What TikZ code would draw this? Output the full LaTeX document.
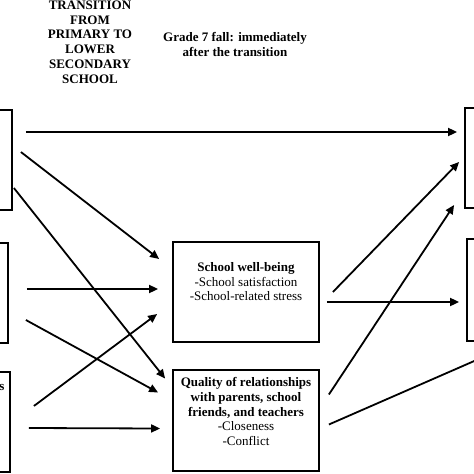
\documentclass[tikz,border=0pt]{standalone}
\usepackage{fontspec}
\setmainfont{Liberation Serif}
\usetikzlibrary{arrows.meta}
\tikzset{
  box/.style={shape=rectangle,draw=black,line width=1.8pt,inner sep=0pt},
  pathway/.style={-{Triangle[length=9pt,width=8pt]},draw=black,line width=1.8pt},
  txt/.style={align=center,inner sep=0pt,font=\fontsize{13}{14.8}\selectfont}
}

\begin{document}
\begin{tikzpicture}[x=1pt,y=-1pt]
\clip (0,0) rectangle (474,474);
\node[box,minimum width=102pt,minimum height=100pt] (lb1) at (-39,160) {};
\node[box,minimum width=98pt,minimum height=100pt] (lb2) at (-41,293) {};
\node[box,minimum width=100pt,minimum height=100pt] (lb3) at (-40,422) {};
\node[box,minimum width=146pt,minimum height=100pt] (wb) at (246,292) {};
\node[box,minimum width=146pt,minimum height=101pt] (rel) at (246,420.5) {};
\node[box,minimum width=100pt,minimum height=100pt] (rb1) at (515,158) {};
\node[box,minimum width=100pt,minimum height=102pt] (rb2) at (517,290) {};
\coordinate (rb3in) at (520,341);

\node[txt,font=\fontsize{13}{14.8}\selectfont\bfseries,anchor=north] (head1) at (90,0.5) {TRANSITION\\FROM\\PRIMARY TO\\LOWER\\SECONDARY\\SCHOOL};
\node[txt,font=\fontsize{13}{14.8}\selectfont\bfseries,anchor=north] (head2) at (235,32.5) {Grade 7 fall: immediately\\after the transition};
\node[txt,font=\fontsize{13}{14.8}\selectfont\bfseries] (lb3txt) at (2,387) {s};
\node[txt,anchor=north] (wbtxt) at ([yshift=-21pt]wb.north) {\textbf{School well-being}\\-School satisfaction\\-School-related stress};
\node[txt,anchor=north] (reltxt) at ([yshift=-8pt]rel.north) {\textbf{Quality of relationships}\\\textbf{with parents, school}\\\textbf{friends, and teachers}\\-Closeness\\-Conflict};

\draw [pathway] ([xshift=13pt,yshift=28pt]lb1.east) -- ([xshift=-7pt,yshift=26pt]rb1.west);
\draw [pathway] ([xshift=8pt,yshift=8pt]lb1.east) -- ([xshift=-13pt,yshift=33pt]wb.west);
\draw [pathway] ([xshift=1pt,yshift=-28pt]lb1.east) -- ([xshift=-7pt,yshift=42pt]rel.west);
\draw [pathway] ([xshift=18pt,yshift=4pt]lb2.east) -- ([xshift=-14pt,yshift=3pt]wb.west);
\draw [pathway] ([xshift=17pt,yshift=-27pt]lb2.east) -- ([xshift=-14pt,yshift=28pt]rel.west);
\draw [pathway] ([xshift=23pt,yshift=16pt]lb3.east) -- ([xshift=-15pt,yshift=-22pt]wb.west);
\draw [pathway] ([xshift=18pt,yshift=-6pt]lb3.east) -- ([xshift=-12pt,yshift=-8pt]rel.west);
\draw [pathway] ([xshift=13pt]wb.east) -- ([xshift=-5pt,yshift=-4pt]rb1.west);
\draw [pathway] ([xshift=7pt,yshift=-10pt]wb.east) -- ([xshift=-7pt,yshift=-12pt]rb2.west);
\draw [pathway] ([xshift=9pt,yshift=26pt]rel.east) -- ([xshift=-10pt,yshift=-47pt]rb1.west);
\draw [pathway] ([xshift=9pt,yshift=-4pt]rel.east) -- (rb3in);
\end{tikzpicture}
\end{document}
